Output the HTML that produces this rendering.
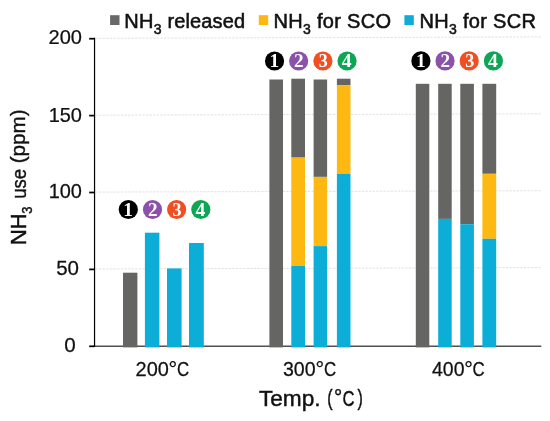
<!DOCTYPE html>
<html><head><meta charset="utf-8"><title>NH3 use chart</title>
<style>
html,body{margin:0;padding:0;background:#fff;}
svg{display:block;}
text{font-family:"Liberation Sans",sans-serif;fill:#111;}
.c{stroke:#111;stroke-width:0.25px;}
.t{stroke-width:0.45px;}
.lg{font-size:20px;letter-spacing:0.28px;stroke:#111;stroke-width:0.55px;}
.sub{font-size:14px;}
.cn{font-family:"Liberation Serif",serif;font-weight:bold;fill:#fff;}
</style></head><body>
<svg width="550" height="421" viewBox="0 0 550 421">
<rect width="550" height="421" fill="#fff"/>
<line x1="95.5" x2="541.5" y1="269.0" y2="267.6" stroke="#dedede" stroke-width="0.9" stroke-dasharray="2.4 1.2"/><line x1="95.5" x2="541.5" y1="192.1" y2="190.7" stroke="#dedede" stroke-width="0.9" stroke-dasharray="2.4 1.2"/><line x1="95.5" x2="541.5" y1="115.2" y2="113.8" stroke="#dedede" stroke-width="0.9" stroke-dasharray="2.4 1.2"/><line x1="95.5" x2="541.5" y1="38.3" y2="36.9" stroke="#dedede" stroke-width="0.9" stroke-dasharray="2.4 1.2"/>
<line x1="93.8" x2="541.3" y1="346.3" y2="346.3" stroke="#505050" stroke-width="1.5"/>
<rect x="123.0" y="272.7" width="14.4" height="74.7" fill="#656664"/>
<rect x="144.9" y="232.7" width="14.5" height="114.7" fill="#0CADD7"/>
<rect x="167.0" y="268.4" width="14.6" height="79.0" fill="#0CADD7"/>
<rect x="189.0" y="243.0" width="14.8" height="104.4" fill="#0CADD7"/>
<rect x="269.4" y="79.5" width="13.6" height="267.9" fill="#656664"/>
<rect x="291.3" y="78.7" width="13.7" height="78.9" fill="#656664"/><rect x="291.3" y="157.6" width="13.7" height="108.4" fill="#FEB812"/><rect x="291.3" y="266.0" width="13.7" height="81.4" fill="#0CADD7"/>
<rect x="313.6" y="79.5" width="13.5" height="97.4" fill="#656664"/><rect x="313.6" y="176.9" width="13.5" height="69.2" fill="#FEB812"/><rect x="313.6" y="246.1" width="13.5" height="101.3" fill="#0CADD7"/>
<rect x="336.9" y="78.7" width="13.6" height="6.6" fill="#656664"/><rect x="336.9" y="85.3" width="13.6" height="88.6" fill="#FEB812"/><rect x="336.9" y="173.9" width="13.6" height="173.5" fill="#0CADD7"/>
<rect x="415.8" y="83.8" width="13.5" height="263.6" fill="#656664"/>
<rect x="438.2" y="83.8" width="13.5" height="135.1" fill="#656664"/><rect x="438.2" y="218.9" width="13.5" height="128.5" fill="#0CADD7"/>
<rect x="460.3" y="83.8" width="13.6" height="140.4" fill="#656664"/><rect x="460.3" y="224.2" width="13.6" height="123.2" fill="#0CADD7"/>
<rect x="482.4" y="83.8" width="13.8" height="90.0" fill="#656664"/><rect x="482.4" y="173.8" width="13.8" height="65.0" fill="#FEB812"/><rect x="482.4" y="238.8" width="13.8" height="108.6" fill="#0CADD7"/>
<line x1="94.55" x2="94.55" y1="37.8" y2="347.0" stroke="#000" stroke-width="1.2"/>
<line x1="89.2" x2="94.5" y1="346.3" y2="346.3" stroke="#000" stroke-width="1.75"/><line x1="89.2" x2="94.5" y1="269.4" y2="269.4" stroke="#000" stroke-width="1.75"/><line x1="89.2" x2="94.5" y1="192.5" y2="192.5" stroke="#000" stroke-width="1.75"/><line x1="89.2" x2="94.5" y1="115.6" y2="115.6" stroke="#000" stroke-width="1.75"/><line x1="89.2" x2="94.5" y1="38.7" y2="38.7" stroke="#000" stroke-width="1.75"/><text transform="matrix(1.0021 0 0 0.9878 48.56 44.39)" class="c" style="font-size:20px" >200</text><text transform="matrix(0.9993 0 0 0.9878 48.65 121.89)" class="c" style="font-size:20px" >150</text><text transform="matrix(0.9993 0 0 1.0017 48.65 198.29)" class="c" style="font-size:20px" >100</text><text transform="matrix(1.0273 0 0 1.0087 56.16 275.08)" class="c" style="font-size:20px" >50</text><text transform="matrix(1.0300 0 0 1.0157 64.26 352.18)" class="c" style="font-size:20px" >0</text>
<circle cx="128.3" cy="209.5" r="9.6" fill="#000000"/><text transform="matrix(1.0815 0 0 1.0171 123.33 215.85)" class="cn" style="font-size:18px" >1</text><circle cx="152.5" cy="209.5" r="9.6" fill="#8A52A8"/><text transform="matrix(1.0667 0 0 1.0171 147.95 215.85)" class="cn" style="font-size:18px" >2</text><circle cx="176.65" cy="209.5" r="9.6" fill="#F04E23"/><text transform="matrix(1.0032 0 0 0.9939 172.59 215.57)" class="cn" style="font-size:18px" >3</text><circle cx="200.8" cy="209.5" r="9.6" fill="#0CA654"/><text transform="matrix(1.0896 0 0 1.0171 195.50 215.85)" class="cn" style="font-size:18px" >4</text><circle cx="274.55" cy="61.0" r="9.6" fill="#000000"/><text transform="matrix(1.0815 0 0 1.0171 269.58 67.35)" class="cn" style="font-size:18px" >1</text><circle cx="298.65" cy="61.0" r="9.6" fill="#8A52A8"/><text transform="matrix(1.0667 0 0 1.0171 294.10 67.35)" class="cn" style="font-size:18px" >2</text><circle cx="322.9" cy="61.0" r="9.6" fill="#F04E23"/><text transform="matrix(1.0032 0 0 0.9939 318.84 67.07)" class="cn" style="font-size:18px" >3</text><circle cx="347.05" cy="61.0" r="9.6" fill="#0CA654"/><text transform="matrix(1.0896 0 0 1.0171 341.75 67.35)" class="cn" style="font-size:18px" >4</text><circle cx="420.9" cy="60.9" r="9.6" fill="#000000"/><text transform="matrix(1.0815 0 0 1.0171 415.93 67.25)" class="cn" style="font-size:18px" >1</text><circle cx="445.05" cy="60.9" r="9.6" fill="#8A52A8"/><text transform="matrix(1.0667 0 0 1.0171 440.50 67.25)" class="cn" style="font-size:18px" >2</text><circle cx="469.2" cy="60.9" r="9.6" fill="#F04E23"/><text transform="matrix(1.0032 0 0 0.9939 465.14 66.97)" class="cn" style="font-size:18px" >3</text><circle cx="493.4" cy="60.9" r="9.6" fill="#0CA654"/><text transform="matrix(1.0896 0 0 1.0171 488.10 67.25)" class="cn" style="font-size:18px" >4</text>
<text transform="matrix(0.9989 0 0 1.0087 135.56 375.68)" class="c" style="font-size:20px" >200</text><text transform="matrix(1.0779 0 0 0.9937 168.59 375.87)" class="c" style="font-size:20px" >°</text><text transform="matrix(0.8429 0 0 1.0087 177.11 375.68)" class="c" style="font-size:20px" >C</text><text transform="matrix(0.9800 0 0 1.0087 282.89 375.68)" class="c" style="font-size:20px" >300</text><text transform="matrix(1.0779 0 0 0.9937 315.59 375.87)" class="c" style="font-size:20px" >°</text><text transform="matrix(0.8429 0 0 1.0087 323.91 375.68)" class="c" style="font-size:20px" >C</text><text transform="matrix(0.9736 0 0 1.0087 432.00 375.68)" class="c" style="font-size:20px" >400</text><text transform="matrix(1.0779 0 0 0.9937 464.19 375.87)" class="c" style="font-size:20px" >°</text><text transform="matrix(0.8429 0 0 1.0087 472.51 375.68)" class="c" style="font-size:20px" >C</text>
<text transform="matrix(0.9851 0 0 0.9668 258.95 406.44)" class="c t" style="font-size:23px" >Temp.</text><text transform="matrix(0.6957 0 0 0.9853 327.15 405.44)" class="c t" style="font-size:23px" >(</text><text transform="matrix(0.8934 0 0 0.8494 334.04 404.34)" class="c t" style="font-size:23px" >°</text><text transform="matrix(0.7262 0 0 0.9860 342.62 406.35)" class="c t" style="font-size:23px" >C</text><text transform="matrix(0.6957 0 0 0.9853 357.40 405.44)" class="c t" style="font-size:23px" >)</text>
<text transform="translate(25.50 245.00) rotate(-90) scale(0.9476 0.9956)" class="c t" style="font-size:23px" >NH</text><text transform="translate(31.77 213.71) rotate(-90) scale(0.8129 0.9304)" class="c t" style="font-size:16px" >3</text><text transform="translate(25.69 198.66) rotate(-90) scale(0.8037 0.8734)" class="c t" style="font-size:23px" >use</text><text transform="translate(25.02 163.37) rotate(-90) scale(0.8998 0.8895)" class="c t" style="font-size:23px" >(ppm)</text>
<rect x="110.1" y="15.2" width="9.4" height="9.8" fill="#686868"/><text x="124.3" y="28" class="lg">NH<tspan class="sub" dy="5.6">3</tspan><tspan dy="-5.6" style="letter-spacing:0.12px"> released</tspan></text><rect x="258.8" y="15.2" width="9.4" height="9.8" fill="#FEB812"/><text x="273.6" y="28" class="lg">NH<tspan class="sub" dy="5.6">3</tspan><tspan dy="-5.6" style="letter-spacing:0.3px"> for SCO</tspan></text><rect x="404.4" y="15.2" width="9.4" height="9.8" fill="#0CADD7"/><text x="419.6" y="28" class="lg">NH<tspan class="sub" dy="5.6">3</tspan><tspan dy="-5.6" style="letter-spacing:0.3px"> for SCR</tspan></text>
</svg>
</body></html>
